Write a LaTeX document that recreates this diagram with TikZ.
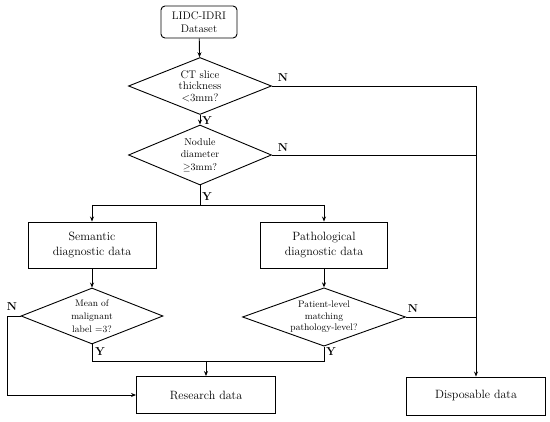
\documentclass[tikz,border=0pt]{standalone}
\usetikzlibrary{shapes.geometric,arrows.meta}
\begin{document}
\begin{tikzpicture}[x=1pt,y=-1pt,
  line width=0.9pt,
  arr/.style={-{Stealth[length=5pt,width=4pt]}},
  boxnode/.style={draw,rectangle,align=center,inner sep=0pt,font=\fontsize{12}{15}\selectfont},
  dia/.style={draw,diamond,aspect=2.5,inner sep=0pt,align=center},
  lab/.style={font=\fontsize{11.5}{13}\selectfont\bfseries,inner sep=0pt}]
\useasboundingbox (0,0) rectangle (550,422);
% nodes
\node[draw,rounded corners=4pt,minimum width=76pt,minimum height=32pt,align=center,inner sep=0pt,font=\fontsize{11}{12.5}\selectfont] (start) at (199,22) {LIDC-IDRI\\Dataset};
\node[dia,minimum width=143pt,minimum height=57pt,font=\fontsize{11}{11.5}\selectfont] (d1) at (200,86) {CT slice\\thickness\\$<$3mm?};
\node[dia,minimum width=143pt,minimum height=60pt,font=\fontsize{10}{12.5}\selectfont] (d2) at (200,155) {Nodule\\diameter\\$\geq$3mm?};
\node[boxnode,minimum width=128pt,minimum height=46pt] (sem) at (92,245) {Semantic\\diagnostic data};
\node[boxnode,minimum width=127pt,minimum height=46pt] (pat) at (324,245) {Pathological\\diagnostic data};
\node[dia,minimum width=142pt,minimum height=56pt,font=\fontsize{9.5}{13}\selectfont] (d3) at (92,316) {Mean of\\malignant\\label =3?};
\node[dia,minimum width=163pt,minimum height=56pt,font=\fontsize{9.5}{11.5}\selectfont] (d4) at (324,317) {Patient-level\\matching\\pathology-level?};
\node[boxnode,minimum width=139pt,minimum height=37pt] (res) at (206,395) {Research data};
\node[boxnode,minimum width=139pt,minimum height=38pt] (disp) at (476,396) {Disposable data};
% labels
\node[lab] (n1) at (283,78) {N};
\node[lab] (n2) at (283,148) {N};
\node[lab] (y1) at (207,121) {Y};
\node[lab] (y2) at (207,197) {Y};
\node[lab] (n3) at (12,307) {N};
\node[lab] (y3) at (100,352) {Y};
\node[lab] (y4) at (331,352) {Y};
\node[lab] (n4) at (413,309) {N};
% coordinates
\coordinate (r1) at (476,86);
\coordinate (r2) at (476,155);
\coordinate (r4) at (476,317);
\coordinate (b0) at (200,205);
\coordinate (bl) at (92,205);
\coordinate (br) at (324,205);
\coordinate (j3) at (92,361);
\coordinate (j4) at (324,361);
\coordinate (jr) at (206,361);
\coordinate (l1) at (7,316);
\coordinate (l2) at (7,395);
% connectors
\draw[arr] (start) -- (d1);
\draw[arr] (d1) -- (d2);
\draw (d2.south) -- (b0);
\draw (bl) -- (br);
\draw[arr] (bl) -- (sem.north);
\draw[arr] (br) -- (pat.north);
\draw[arr] (sem) -- (d3);
\draw[arr] (pat) -- (d4);
\draw (d1.east) -- (r1);
\draw (d2.east) -- (r2);
\draw (d4.east) -- (r4);
\draw[arr] (r1) -- (disp.north);
\draw (d3.south) -- (j3) -- (j4) -- (d4.south);
\draw[arr] (jr) -- (res.north);
\draw[arr] (d3.west) -- (l1) -- (l2) -- (res.west);
\end{tikzpicture}
\end{document}
